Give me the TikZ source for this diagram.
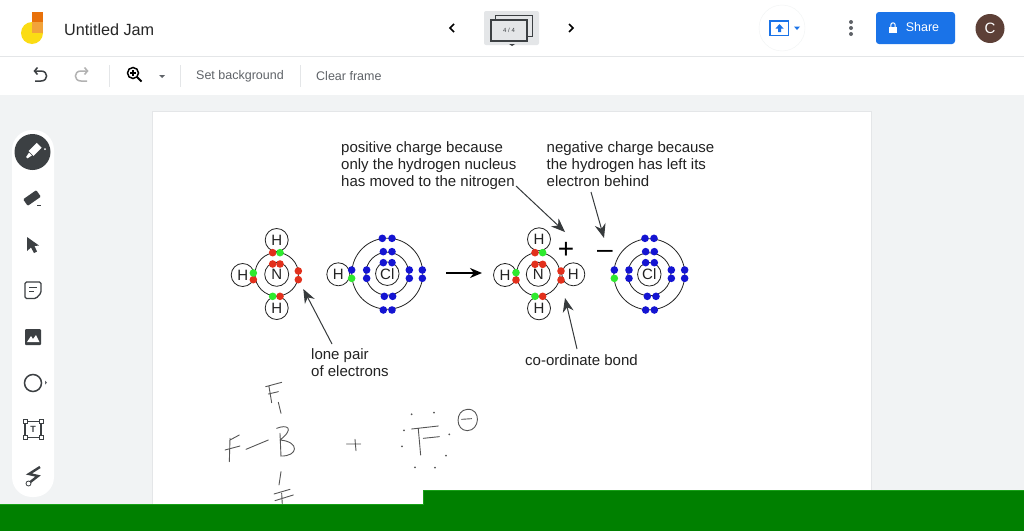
\documentclass[tikz,border=0pt]{standalone}
\usepackage{xcolor}
\usepackage{fontspec}
\setmainfont{Liberation Sans}
\usetikzlibrary{arrows.meta}
\definecolor{pagegray}{HTML}{F1F3F4}
\definecolor{linegray}{HTML}{E4E6E8}
\definecolor{icongray}{HTML}{3C4043}
\definecolor{labelgray}{HTML}{5F6368}
\definecolor{sharblue}{HTML}{1A73E8}
\definecolor{jamgreen}{HTML}{008000}
\definecolor{edgegreen}{HTML}{18A018}
\definecolor{elred}{HTML}{E2301C}
\definecolor{ellime}{HTML}{2EEA2E}
\definecolor{elblue}{HTML}{1414D2}
\definecolor{inkgray}{HTML}{222222}
\definecolor{penink}{HTML}{555555}
\definecolor{logoorange}{HTML}{E8710A}
\definecolor{logomid}{HTML}{F2A33A}
\definecolor{logoyellow}{HTML}{FBDC14}
\definecolor{avatarbrown}{HTML}{5D4037}

\begin{document}
\begin{tikzpicture}[x=1pt, y=-1pt, >=Stealth,
    ui/.style={font=\fontsize{12.5}{15}\selectfont, text=labelgray, inner sep=0pt},
    note/.style={font=\fontsize{15}{17}\selectfont, text=inkgray, align=left, inner sep=0pt},
    atom/.style={circle, draw=inkgray, line width=0.8pt, fill=white, minimum size=23pt, inner sep=0pt, font=\fontsize{15}{16}\selectfont, text=inkgray},
    symb/.style={font=\fontsize{15}{16}\selectfont, text=inkgray, inner sep=0pt},
    shell/.style={circle, draw=inkgray, line width=0.8pt, inner sep=0pt},
    el/.style={circle, fill=#1, minimum size=7.6pt, inner sep=0pt},
    pointer/.style={draw=icongray!90!black, line width=1pt, -{Stealth[length=14pt,width=11pt]}},
    pen/.style={draw=penink, line width=0.9pt, line cap=round, line join=round},
    tool/.style={icongray, line width=1.3pt},
    sep/.style={draw=linegray, line width=0.8pt}]
  \useasboundingbox (0,0) rectangle (1024,530);
  % page
  \fill[pagegray] (0,0) rectangle (1024,530);
  \fill[white] (0,0) rectangle (1024,95);
  \draw[sep] (0,56.5) -- (1024,56.5);
  \fill[white, draw=linegray] (152,111) rectangle (871,520);

  % title bar
  \fill[logoyellow] (32,33) circle (11);
  \fill[logoorange] (32,12) rectangle (43,22);
  \fill[logomid] (32,22) rectangle (43,33);
  \node[ui, font=\fontsize{16.2}{18}\selectfont, text=black!85, anchor=west] (title) at (64,30) {Untitled Jam};
  \draw[black, line width=1.6pt] (454,24) -- (450,28) -- (454,32);
  \draw[black, line width=1.6pt] (569,24) -- (573,28) -- (569,32);
  \fill[linegray, rounded corners=2pt] (484,11) rectangle (539,45);
  \draw[icongray, line width=1pt] (495,19) -- (495,15) -- (532,15) -- (532,36) -- (527,36);
  \draw[icongray, line width=1.2pt] (491,20) rectangle (527,41);
  \node[font=\fontsize{6}{7}\selectfont, text=icongray, inner sep=0pt] (framecount) at (509,30) {4 / 4};
  \fill[icongray] (509,44) -- (515,44) -- (512,46) -- cycle;
  \fill[white, draw=pagegray] (782,28) circle (23);
  \draw[sharblue, line width=1.4pt] (770,21) rectangle (788.5,35.5);
  \fill[sharblue] (779.5,24) -- (783.5,28.5) -- (781,28.5) -- (781,32) -- (778,32) -- (778,28.5) -- (775.5,28.5) -- cycle;
  \fill[sharblue] (794,26.5) -- (800,26.5) -- (797,30) -- cycle;
  \foreach \dy in {22,28,34}
    \fill[labelgray] (851,\dy) circle (2);
  \fill[sharblue, rounded corners=3pt] (876,12) rectangle (955,44);
  \fill[white] (889,26.5) rectangle (897,33);
  \draw[white, line width=1pt] (890.8,27) -- (890.8,25) arc (180:360:2.2) -- (895.2,27);
  \node[font=\fontsize{12.5}{15}\selectfont, text=white, inner sep=0pt] (share) at (922.5,27.5) {Share};
  \node[circle, fill=avatarbrown, minimum size=29pt, inner sep=0pt, font=\fontsize{15}{17}\selectfont, text=white] (avatar) at (990,28.5) {C};

  % tool bar
  \draw[tool, line width=1.5pt, -{Straight Barb[length=3pt,width=7pt]}] (35,81) -- (41,81) .. controls (48.5,81) and (48.5,71) .. (41,71) -- (33.5,71);
  \draw[black!30, line width=1.5pt, -{Straight Barb[length=3pt,width=7pt]}] (87,81) -- (81,81) .. controls (73.5,81) and (73.5,71) .. (81,71) -- (88.5,71);
  \draw[sep] (109,65) -- (109,87);
  \draw[black, line width=1.5pt] (133,73) circle (5.5);
  \draw[black, line width=2pt] (137,77) -- (141.5,81.5);
  \draw[black, line width=1.1pt] (130,73) -- (136,73) (133,70) -- (133,76);
  \fill[labelgray] (159,75) -- (165,75) -- (162,78) -- cycle;
  \draw[sep] (180,65) -- (180,87);
  \node[ui, anchor=west] (setbg) at (196,76) {Set background};
  \draw[sep] (300,65) -- (300,87);
  \node[ui, anchor=west] (clearframe) at (316,76) {Clear frame};

  % side bar
  \fill[white, rounded corners=20pt] (12,130) rectangle (54,497);
  \fill[icongray] (32.5,152) circle (18);
  \begin{scope}[shift={(32.5,152)}, rotate=-45]
    \fill[white] (-3.5,-9.5) rectangle (3.5,2);
    \fill[white] (-2,3) -- (2,3) -- (1,8) -- (-1,8) -- cycle;
  \end{scope}
  \fill[white] (45,149) circle (1);
  \begin{scope}[shift={(32,198)}, rotate=35]
    \fill[icongray, rounded corners=1pt] (-8,-4) rectangle (8,4);
  \end{scope}
  \fill[icongray] (37,204.5) rectangle (41,205.5);
  \fill[icongray] (27,237) -- (27,251) -- (31,247.5) -- (34,253) -- (37,251.5) -- (34.5,246) -- (39,245.5) -- cycle;
  \draw[tool, rounded corners=1.5pt] (25,282) -- (41,282) -- (41,293) -- (36,298.5) -- (25,298.5) -- cycle;
  \draw[tool] (29,287.5) -- (37,287.5) (29,291.5) -- (34,291.5);
  \fill[icongray, rounded corners=1pt] (25,329) rectangle (41,345);
  \fill[white] (27,342) -- (31,336) -- (33,339) -- (36,335) -- (39.5,342) -- cycle;
  \draw[tool, line width=1.5pt] (33,383) circle (8.5);
  \fill[labelgray] (45,380.5) -- (47,382.5) -- (45,384.5) -- cycle;
  \draw[tool] (25,421.5) rectangle (41,437.5);
  \foreach \cx/\cy in {25/421.5,41/421.5,25/437.5,41/437.5}
    \draw[tool, fill=white, line width=1pt] (\cx-2,\cy-2) rectangle (\cx+2,\cy+2);
  \node[font=\bfseries\fontsize{9}{10}\selectfont, text=icongray, inner sep=0pt] (textbox) at (33,429.5) {T};
  \draw[icongray, line width=2.4pt] (40,467) -- (29,474) -- (38,476) -- (29,483);
  \draw[tool, line width=0.8pt, fill=white] (28.5,483.5) circle (2.5);

  % left molecules
  \node[shell, minimum size=24pt] (nL) at (276.7,274.3) {};
  \node[shell, minimum size=43.5pt] (nLo) at (276.7,274.3) {};
  \node[atom] (hLt) at (276.7,240) {H};
  \node[atom] (hLl) at (242.7,275) {H};
  \node[atom] (hLb) at (276.7,308) {H};
  \node[symb] (nameNL) at (276.7,274.3) {N};
  \node[atom] (hLc) at (338.3,274.3) {H};
  \foreach \r [count=\i] in {23.5,43,71}
    \node[shell, minimum size=\r pt] (clL\i) at (387.3,273.7) {};
  \node[symb] (nameClL) at (387.3,273.7) {Cl};

  % right molecules
  \node[shell, minimum size=24pt] (nR) at (538.3,274.3) {};
  \node[shell, minimum size=43.5pt] (nRo) at (538.3,274.3) {};
  \node[atom] (hRt) at (539,239.3) {H};
  \node[atom] (hRl) at (505,275) {H};
  \node[atom] (hRr) at (573.3,274.3) {H};
  \node[atom] (hRb) at (539,308.3) {H};
  \node[symb] (nameNR) at (538.3,274.3) {N};
  \foreach \r [count=\i] in {23.5,43,71}
    \node[shell, minimum size=\r pt] (clR\i) at (649.3,274.3) {};
  \node[symb] (nameClR) at (649.3,274.3) {Cl};

  % electrons, crop coordinates
  \begin{scope}[shift={(220,215)}, x=0.3333pt, y=-0.3333pt]
    \foreach \ex/\ey in {158/113,158/147,180/147,235/168,235/194,100/194,180/244}
      \node[el=elred] at (\ex,\ey) {};
    \foreach \ex/\ey in {180/113,100/174,158/244,395/190}
      \node[el=ellime] at (\ex,\ey) {};
    \foreach \ex/\ey in {487/70,516/70,490/110,516/110,490/143,516/143,440/165,440/190,568/165,568/190,607/165,607/190,493/244,518/244,490/285,516/285,395/165}
      \node[el=elblue] at (\ex,\ey) {};
  \end{scope}
  \begin{scope}[shift={(480,215)}, x=0.3333pt, y=-0.3333pt]
    \foreach \ex/\ey in {165/113,165/148,188/148,108/195,243/168,243/195,188/244}
      \node[el=elred] at (\ex,\ey) {};
    \foreach \ex/\ey in {188/113,108/173,165/244,403/190}
      \node[el=ellime] at (\ex,\ey) {};
    \foreach \ex/\ey in {495/70,522/70,497/110,523/110,497/143,523/143,447/165,447/190,574/165,574/190,614/165,614/190,502/244,528/244,497/285,523/285,403/165}
      \node[el=elblue] at (\ex,\ey) {};
  \end{scope}

  % labels
  \node[note, anchor=north west] (poslabel) at (341,141.5) {positive charge because\\only the hydrogen nucleus\\has moved to the nitrogen};
  \node[note, anchor=north west] (neglabel) at (546.5,141.5) {negative charge because\\the hydrogen has left its\\electron behind};
  \node[note, anchor=north west] (lonelabel) at (311,348.5) {lone pair\\of electrons};
  \node[note, anchor=west] (bondlabel) at (525,360.5) {co-ordinate bond};
  \node[font=\fontsize{28}{28}\selectfont, text=black, inner sep=0pt] (plus) at (566,250) {+};
  \node[font=\fontsize{28}{28}\selectfont, text=black, inner sep=0pt] (minus) at (605,254) {\char"2013};

  % arrows
  \coordinate (arrowL) at (446,273);
  \coordinate (arrowR) at (482,273);
  \coordinate (poshead) at (565,232);
  \coordinate (neghead) at (604,238);
  \coordinate (lonehead) at (303.3,289);
  \coordinate (bondhead) at (565,298);
  \coordinate (postail) at (516,186);
  \coordinate (negtail) at (591,192);
  \coordinate (lonetail) at (332,344);
  \coordinate (bondtail) at (577,349);
  \draw[draw=black, line width=1.6pt, -{Stealth[length=12pt,width=10pt]}] (arrowL) -- (arrowR);
  \draw[pointer] (postail) -- (poshead);
  \draw[pointer] (negtail) -- (neghead);
  \draw[pointer] (lonetail) -- (lonehead);
  \draw[pointer] (bondtail) -- (bondhead);

  % handwriting, crop coordinates
  \begin{scope}[shift={(200,370)}, x=0.3333pt, y=-0.3333pt]
    \draw[pen] (197,50) -- (245,37) (207,50) -- (215,98) (205,72) -- (235,65) (235,97) -- (243,130);
    \draw[pen] (90,210) -- (118,195) (90,205) -- (88,275) (75,240) -- (120,228) (138,238) -- (205,210);
    \draw[pen] (230,175) .. controls (262,162) and (285,175) .. (240,210) .. controls (300,215) and (295,260) .. (242,258) (240,190) -- (243,258);
    \draw[pen] (243,305) -- (237,345);
    \draw[pen] (222,372) -- (270,358) (245,370) -- (247,405) (225,392) -- (280,375);
    \draw[pen] (440,222) -- (482,222) (465,208) -- (468,242);
    \draw[pen] (635,177) -- (715,168) (655,177) -- (662,255) (670,205) -- (718,200);
    \foreach \dx/\dy in {635/133,702/128,612/181,606/229,748/193,738/257,645/292,705/293}
      \fill[penink] (\dx,\dy) circle (3);
    \draw[pen] (802,118) .. controls (845,115) and (840,182) .. (802,182) .. controls (765,182) and (765,120) .. (802,118);
    \draw[pen] (785,148) -- (815,146);
  \end{scope}

  % bottom band
  \fill[jamgreen, draw=edgegreen, line width=0.6pt] (-2,504) -- (423,504) -- (423,490.5) -- (1026,490.5) -- (1026,532) -- (-2,532) -- cycle;
\end{tikzpicture}
\end{document}
